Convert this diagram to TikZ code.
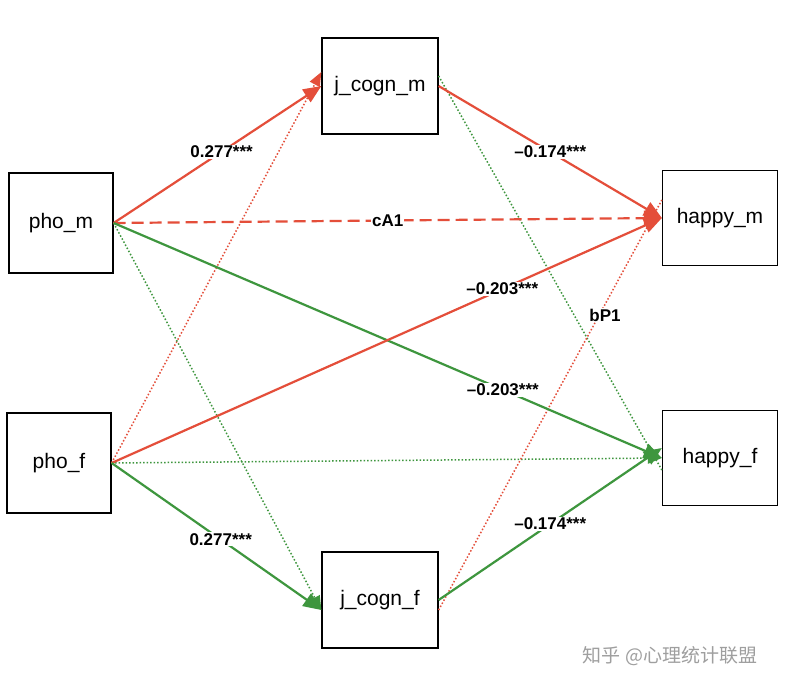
\documentclass[tikz,border=0pt]{standalone}
\usepackage{fontspec}
\setmainfont{Liberation Sans}
\newfontfamily\cjk{Noto Sans CJK SC}
\usetikzlibrary{arrows.meta}
\definecolor{rd}{RGB}{228,78,58}
\definecolor{gn}{RGB}{62,150,62}
\begin{document}
\begin{tikzpicture}[x=1pt,y=-1pt,
 box/.style={draw,line width=1.3pt,minimum width=104pt,minimum height=100pt,inner sep=0pt,font=\fontsize{21}{24}\selectfont},
 arr/.style={line width=2.2pt,-{Triangle[length=18pt,width=15pt]}},
 dot/.style={line width=1.5pt,dotted},
 lab/.style={fill=white,text=black,inner sep=1pt,font=\bfseries\fontsize{17}{19}\selectfont}]
\path[use as bounding box,fill=white] (0,0) rectangle (801,688);
\node[box] (pm) at (61,223) {pho\_m};
\node[box] (pf) at (59,463) {pho\_f};
\node[box,minimum width=116pt,minimum height=96pt] (jm) at (380,86) {j\_cogn\_m};
\node[box,minimum width=116pt,minimum height=96pt] (jf) at (380,600) {j\_cogn\_f};
\node[box,minimum width=115pt,minimum height=95pt] (hm) at (720,218) {happy\_m};
\node[box,minimum width=115pt,minimum height=95pt] (hf) at (720,458) {happy\_f};
% dotted
\draw[dot,rd,-{Triangle[length=14pt,width=11pt]}] (pf.east) -- ([yshift=14pt]jm.west);
\draw[dot,gn,-{Triangle[length=14pt,width=11pt]}] (pm.east) -- ([yshift=-10pt]jf.west);
\draw[dot,gn,-{Triangle[length=14pt,width=11pt]}] (pf.east) -- (hf.west);
\draw[dot,gn] ([yshift=10pt]jm.east) -- ([yshift=-12pt]hf.west);
\draw[dot,rd] ([yshift=-10pt]jf.east) -- ([yshift=18pt]hm.west);
% solid/dashed
\draw[arr,rd] (pm.east) -- node[lab,pos=0.52]{0.277***} (jm.west);
\draw[arr,rd,dashed,dash pattern=on 12pt off 6pt] (pm.east) -- node[lab,pos=0.5]{cA1} (hm.west);
\draw[arr,gn] (pm.east) -- node[lab,pos=0.71]{–0.203***} (hf.west);
\draw[arr,rd] (pf.east) -- node[lab,pos=0.71]{–0.203***} (hm.west);
\draw[arr,gn] (pf.east) -- node[lab,pos=0.52]{0.277***} ([yshift=-10pt]jf.west);
\draw[arr,rd] (jm.east) -- node[lab,pos=0.5]{–0.174***} (hm.west);
\draw[arr,gn] (jf.east) -- node[lab,pos=0.5]{–0.174***} ([yshift=10pt]hf.west);
\node[lab] (bp) at (605,315) {bP1};
\node[font=\cjk\fontsize{19}{22}\selectfont,text=gray!75] (wm) at (670,656) {知乎 @心理统计联盟};
\end{tikzpicture}
\end{document}
